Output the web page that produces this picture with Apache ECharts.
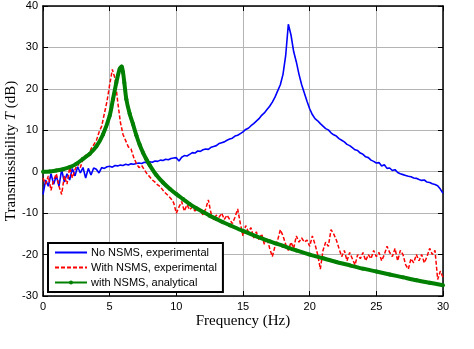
<!DOCTYPE html>
<html>
<head>
<meta charset="utf-8">
<script src="https://cdn.jsdelivr.net/npm/echarts@6/dist/echarts.min.js"></script>
<style>html,body{margin:0;padding:0;background:#fff;}#c{width:474px;height:349px;}</style>
</head>
<body>
<div id="c"></div>
<script>
// Frequency grid of the experimental curves (Hz)
var freqExp = [
 0,0.2,0.4,0.6,0.8, 1,1.2,1.4,1.6,1.8, 2,2.2,2.4,2.6,2.8, 3,3.2,3.4,3.6,3.8,
 4,4.2,4.4,4.6,4.8, 5,5.2,5.4,5.6,5.8, 6,6.2,6.4,6.6,6.8, 7,7.2,7.4,7.6,7.8,
 8,8.2,8.4,8.6,8.8, 9,9.2,9.4,9.6,9.8, 10,10.2,10.4,10.6,10.8, 11,11.2,11.4,11.6,11.8,
 12,12.2,12.4,12.6,12.8, 13,13.2,13.4,13.6,13.8, 14,14.2,14.4,14.6,14.8, 15,15.2,15.4,15.6,15.8,
 16,16.2,16.4,16.6,16.8, 17,17.2,17.4,17.6,17.8, 18,18.2,18.4,18.6,18.8, 19,19.2,19.4,19.6,19.8,
 20,20.2,20.4,20.6,20.8, 21,21.2,21.4,21.6,21.8, 22,22.2,22.4,22.6,22.8, 23,23.2,23.4,23.6,23.8,
 24,24.2,24.4,24.6,24.8, 25,25.2,25.4,25.6,25.8, 26,26.2,26.4,26.6,26.8, 27,27.2,27.4,27.6,27.8,
 28,28.2,28.4,28.6,28.8, 29,29.2,29.4,29.6,29.8, 30
];
// No NSMS, experimental (dB)
var noNsmsExp = [
 -5.5,-2,-3.5,-0.5,-3, -1,-3.5,0.5,-2.5,-0.5, -2,0.8,-1,1.2,-0.3, 1,-1.5,0.8,-0.8,0.9,
 0.6,-0.3,1.0,0.8,1.2, 1.3,1.1,1.5,1.4,1.6, 1.5,1.8,1.6,1.9,1.8, 2.0,2.1,2.0,2.3,2.2,
 2.4,2.3,2.6,2.5,2.8, 2.7,3.0,2.9,3.2,3.3, 3.4,2.6,3.5,3.9,3.8, 4.2,4.6,4.5,5.0,4.9,
 5.3,5.5,5.4,5.9,6.1, 6.3,6.8,7.0,7.2,7.6, 7.9,8.1,8.6,8.8,9.2, 9.6,10.2,10.5,11.1,11.6,
 12.2,12.8,13.6,14.2,15.0, 15.8,16.8,18.0,19.5,21.0, 23.5,28.0,35.6,33.0,29.0, 26.5,23.5,21,19,17,
 15.2,13.8,12.8,12.3,11.6, 11.0,10.4,10.1,9.4,8.9, 8.6,8.0,7.6,7.2,6.6, 6.3,5.8,5.3,5.1,4.5,
 4.2,3.6,3.4,2.8,2.5, 2.1,2.2,1.4,1.7,0.8, 0.9,0.3,0.5,-0.2,-0.5, -0.7,-0.9,-1.1,-1.2,-1.5,
 -1.6,-1.9,-2.1,-2.0,-2.5, -2.6,-2.9,-3.1,-3.4,-4.2, -5.2
];
// With NSMS, experimental (dB)
var withNsmsExp = [
 -1.5,-3,-1,-4.5,-2, -0.5,-3.5,-5.5,-1,-3, 1,-1.5,0.5,2,1, 3,4,3.5,5.5,6.5,
 7.5,9.5,11,14,17, 21,24.7,22.5,17,12, 9,7.5,6,5.5,3.5, 2,1,1.5,0.5,-0.5,
 -1.2,-2,-2.5,-3.2,-3.6, -4.5,-5.2,-5.8,-6.5,-7.5, -10,-8.5,-7.2,-9.5,-8, -9.2,-8.5,-9.5,-8.7,-9.5,
 -10.4,-9,-6.8,-10,-11.6, -10.5,-11,-10,-11.5,-10.5, -11.5,-12.5,-11,-9,-12.5, -15.5,-13,-14.5,-13.5,-16,
 -14.5,-16.5,-15,-17.5,-16, -18.5,-20.5,-18,-16.5,-14, -15.5,-17.5,-19,-17,-18.5, -15.5,-17,-16,-17,-16.5,
 -18,-15.5,-17.5,-20,-23.5, -19,-17,-18,-14,-15, -16.5,-18.5,-20.5,-19,-21.5, -19.5,-21,-22.5,-20,-21,
 -19.5,-21.5,-20,-21,-19, -20.5,-19.5,-21.5,-20,-18, -19.5,-20.5,-18.5,-21.5,-19, -20,-22.5,-23.5,-21,-22,
 -20,-21.5,-20,-22,-20.5, -18.5,-20,-19,-26,-24, -25.5
];
// With NSMS, analytical
var freqAna = [0,0.5,1,1.5,2,2.5,3,3.5,4,4.5,5,5.25,5.5,5.75,5.9,6.0,6.1,6.25,6.5,6.75,7,7.25,7.5,7.75,8,8.5,9,9.5,10,10.5,11,11.5,12,12.5,13,13.5,14,15,16,17,18,19,20,21,22,23,24,25,26,27,28,29,30];
var withNsmsAna = [0,0.05,0.3,0.6,1.1,1.9,3.1,4.3,6.1,9.0,13.5,17.5,21.5,24.8,25.4,24.0,21.5,17.5,14.0,11.5,8.8,6.5,4.6,3.0,1.6,-0.8,-2.6,-4.1,-5.4,-6.6,-7.8,-8.8,-9.7,-10.6,-11.4,-12.2,-12.9,-14.3,-15.6,-16.8,-17.9,-19.0,-20.0,-20.9,-21.8,-22.6,-23.4,-24.1,-24.8,-25.5,-26.2,-26.8,-27.4];

var seriesNames = ['No NSMS, experimental','With NSMS, experimental','with NSMS, analytical'];
var xTicks = {min:0, max:30, interval:5};
var yTicks = {min:-30, max:40, interval:10};

function pairs(xs, ys){ var out=[]; for(var i=0;i<xs.length;i++) out.push([xs[i], ys[i]]); return out; }

var chart = echarts.init(document.getElementById('c'), null, {renderer:'canvas'});
var sansFont = 'Liberation Sans, Arial, sans-serif';
var serifFont = 'Liberation Serif, Times New Roman, serif';
var axisLineStyle = {color:'#000', width:1.5};
var gridLine = {show:true, lineStyle:{color:'#b4b4b4', width:1, type:'solid'}};

chart.setOption({
  animation:false,
  backgroundColor:'#fff',
  grid:{left:43, right:31, top:6, bottom:53, containLabel:false, outerBoundsMode:'none'},
  legend:{
    orient:'vertical', left:48, top:243,
    data:[
      {name:seriesNames[0], itemStyle:{opacity:0}},
      {name:seriesNames[1], itemStyle:{opacity:0}},
      {name:seriesNames[2]}
    ],
    itemWidth:32, itemHeight:5, itemGap:4,
    padding:[4,6,4,6],
    backgroundColor:'#fff', borderColor:'#000', borderWidth:2, borderRadius:0,
    textStyle:{fontFamily:sansFont, fontSize:11, color:'#000', padding:[0,0,0,-1]}
  },
  xAxis:[
    {type:'value', position:'bottom', min:xTicks.min, max:xTicks.max, interval:xTicks.interval,
     name:'Frequency (Hz)', nameLocation:'middle', nameGap:18, nameMoveOverlap:false,
     nameTextStyle:{fontFamily:serifFont, fontSize:15, color:'#000'},
     axisLine:{show:true, onZero:false, lineStyle:axisLineStyle},
     axisTick:{show:true, inside:true, length:5, lineStyle:{color:'#000', width:1}},
     axisLabel:{fontFamily:sansFont, fontSize:11, color:'#000', margin:5},
     splitLine:gridLine},
    {type:'value', position:'top', min:xTicks.min, max:xTicks.max, interval:xTicks.interval,
     axisLine:{show:true, onZero:false, lineStyle:axisLineStyle},
     axisTick:{show:true, inside:true, length:5, lineStyle:{color:'#000', width:1}},
     axisLabel:{show:false}, splitLine:{show:false}}
  ],
  yAxis:[
    {type:'value', position:'left', min:yTicks.min, max:yTicks.max, interval:yTicks.interval,
     name:'{a|Transmissibility }{b|T}{a| (dB)}', nameLocation:'middle', nameGap:24, nameMoveOverlap:false,
     nameTextStyle:{rich:{a:{fontFamily:serifFont, fontSize:15, color:'#000'}, b:{fontFamily:serifFont, fontSize:15, fontStyle:'italic', color:'#000'}}},
     axisLine:{show:true, onZero:false, lineStyle:axisLineStyle},
     axisTick:{show:true, inside:true, length:5, lineStyle:{color:'#000', width:1}},
     axisLabel:{fontFamily:sansFont, fontSize:11, color:'#000', margin:5},
     splitLine:gridLine},
    {type:'value', position:'right', min:yTicks.min, max:yTicks.max, interval:yTicks.interval,
     axisLine:{show:true, onZero:false, lineStyle:axisLineStyle},
     axisTick:{show:true, inside:true, length:5, lineStyle:{color:'#000', width:1}},
     axisLabel:{show:false}, splitLine:{show:false}}
  ],
  series:[
    {name:seriesNames[0], type:'line', xAxisIndex:0, yAxisIndex:0, data:pairs(freqExp, noNsmsExp),
     showSymbol:false, symbol:'none', itemStyle:{color:'#0000ff'}, lineStyle:{color:'#0000ff', width:1.6}, z:2},
    {name:seriesNames[1], type:'line', xAxisIndex:0, yAxisIndex:0, data:pairs(freqExp, withNsmsExp),
     showSymbol:false, symbol:'none', itemStyle:{color:'#ff0000'}, lineStyle:{color:'#ff0000', width:1.5, type:[4,2]}, z:3},
    {name:seriesNames[2], type:'line', xAxisIndex:0, yAxisIndex:0, data:pairs(freqAna, withNsmsAna),
     smooth:0.3, symbol:'circle', symbolSize:4, showSymbol:true,
     itemStyle:{color:'#007f00'}, lineStyle:{color:'#008000', width:4}, z:4}
  ]
});
</script>
</body>
</html>
